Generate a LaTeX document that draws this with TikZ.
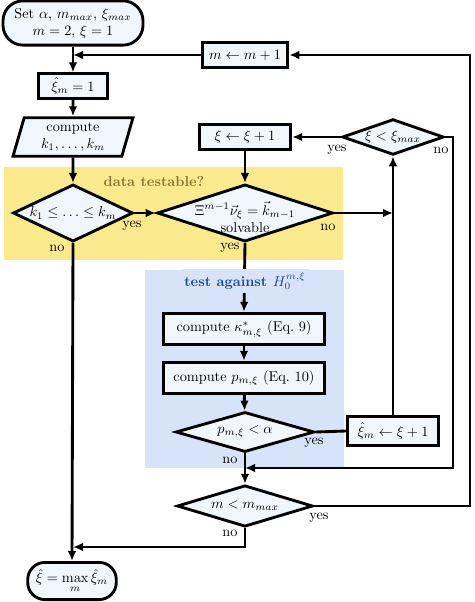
\documentclass[tikz,border=0pt]{standalone}
\usepackage{amsmath}
\usepackage{amssymb}
\usepackage{tikz}
\usetikzlibrary{shapes,arrows,arrows.meta,positioning}
\usepackage{xcolor}

\definecolor{nodefill}{RGB}{240,247,252}
\definecolor{sfondogiallo}{RGB}{251,233,142}
\definecolor{sfondoblu}{RGB}{214,227,249}
\definecolor{titologiallo}{RGB}{136,118,46}
\definecolor{titoloblu}{RGB}{30,70,150}

\tikzset{
  base/.style={draw, line width=2pt, fill=nodefill, align=center, inner sep=2pt},
  box/.style={base, rectangle},
  decision/.style={base, diamond, inner sep=0pt},
  terminal/.style={base, rectangle, rounded corners=14pt},
  iobox/.style={base, trapezium, trapezium left angle=72, trapezium right angle=108, trapezium stretches body},
  flow/.style={-{Latex[length=7pt,width=6pt]}, line width=2pt},
  link/.style={line width=2pt},
  lbl/.style={inner sep=0pt},
  titolo/.style={font=\bfseries, inner sep=2pt},
}

\begin{document}
\begin{tikzpicture}[x=0.7pt, y=-0.7pt]
    \useasboundingbox (0,0) rectangle (474,602);

    % Zone colorate
    \fill[sfondogiallo] (4,167) rectangle (343,260);
    \fill[sfondoblu] (145,270) rectangle (344,468);

    % Inizio e fine
    \node[terminal, minimum width=98pt, minimum height=31pt] (start) at (73,23) {Set $\alpha$, $m_{max}$, $\xi_{max}$\\$m=2$, $\xi=1$};
    \node[terminal, minimum width=62pt, minimum height=26pt, rounded corners=12pt] (fine) at (72,581) {$\hat{\xi}=\max\limits_{m}\hat{\xi}_m$};

    % Colonna sinistra
    \node[box, minimum width=48pt, minimum height=17pt] (xiuno) at (73,86) {$\hat{\xi}_m=1$};
    \node[iobox, minimum width=84pt, minimum height=27pt] (calck) at (73,137) {compute\\$k_1,\ldots,k_m$};
    \node[decision, shape aspect=2.1, minimum width=84pt, minimum height=40pt] (ordine) at (73,213) {$k_1\leq\ldots\leq k_m$};

    % Colonna centrale
    \node[box, minimum width=60pt, minimum height=17pt] (minc) at (245,55) {$m\leftarrow m+1$};
    \node[box, minimum width=64pt, minimum height=18pt] (xiinc) at (245,137) {$\xi\leftarrow\xi+1$};
    \node[decision, shape aspect=3.1, inner sep=-5pt, minimum width=123pt, minimum height=40pt] (risolvi) at (245,213) {\rule{0pt}{15pt}$\Xi^{m-1}\vec{\nu}_{\xi}=\vec{k}_{m-1}$\\solvable};
    \node[box, minimum width=113pt, minimum height=22pt] (kappa) at (244,329) {compute $\kappa^{*}_{m,\xi}$ (Eq.~9)};
    \node[box, minimum width=113pt, minimum height=22pt] (pval) at (244,378) {compute $p_{m,\xi}$ (Eq.~10)};
    \node[decision, shape aspect=3.45, minimum width=97pt, minimum height=28pt] (palpha) at (245,432) {$p_{m,\xi}<\alpha$};
    \node[decision, shape aspect=3.3, minimum width=95pt, minimum height=29pt] (mmax) at (245,506) {$m<m_{max}$};

    % Colonna destra
    \node[decision, shape aspect=2.9, minimum width=71pt, minimum height=25pt] (ximax) at (393,137) {$\xi<\xi_{max}$};
    \node[box, minimum width=64pt, minimum height=20pt] (xiset) at (393,431) {$\hat{\xi}_m\leftarrow\xi+1$};

    % Punti di giunzione
    \coordinate (jm) at (73,55);
    \coordinate (jxi) at (393,213);
    \coordinate (jp) at (245,468);
    \coordinate (jfine) at (73,547);

    % Frecce
    \draw[flow] (start) -- (xiuno);
    \draw[flow] (minc.west) -- (jm);
    \draw[flow] (xiuno) -- (calck);
    \draw[flow] (calck) -- (ordine);
    \draw[flow] (ordine.east) -- (risolvi.west);
    \draw[flow] (ordine.south) -- (fine.north);
    \draw[flow] (risolvi.east) -- (jxi);
    \draw[flow] (risolvi.south) -- (kappa.north);
    \draw[flow] (kappa) -- (pval);
    \draw[flow] (pval) -- (palpha);
    \draw[link] (palpha.east) -- (xiset.west);
    \draw[flow] (xiset.north) -- (ximax.south);
    \draw[flow] (ximax.west) -- (xiinc.east);
    \draw[flow] (xiinc.south) -- (risolvi.north);
    \draw[flow] (ximax.east) -- (453,137) -- (453,468) -- (jp);
    \draw[flow] (palpha.south) -- (mmax.north);
    \draw[flow] (mmax.east) -- (470,506) -- (470,55) -- (minc.east);
    \draw[flow] (mmax.south) -- (245,547) -- (jfine);

    % Etichette
    \node[lbl] (si1) at (132,226) {yes};
    \node[lbl] (no1) at (57,248) {no};
    \node[lbl] (si2) at (230,248) {yes};
    \node[lbl] (no2) at (328,227) {no};
    \node[lbl] (si3) at (337,150) {yes};
    \node[lbl] (no3) at (441,150) {no};
    \node[lbl] (si4) at (314,443) {yes};
    \node[lbl] (no4) at (230,460) {no};
    \node[lbl] (si5) at (319,518) {yes};
    \node[lbl] (no5) at (230,533) {no};

    % Titoli delle zone
    \node[titolo, text=titologiallo, fill=sfondogiallo] (tgiallo) at (154,182) {data testable?};
    \node[titolo, text=titoloblu, fill=sfondoblu] (tblu) at (245,281) {test against $H_0^{m,\xi}$};
\end{tikzpicture}
\end{document}
